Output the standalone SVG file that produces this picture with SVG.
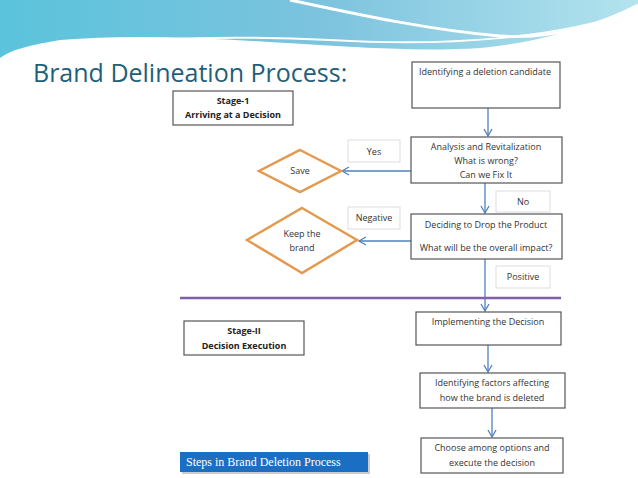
<svg xmlns="http://www.w3.org/2000/svg" width="638" height="478" viewBox="0 0 638 478">
<defs>
<linearGradient id="hg" x1="0" y1="0" x2="1" y2="0"><stop offset="0" stop-color="#5bc3dc"/><stop offset="0.5" stop-color="#7cc3de"/><stop offset="1" stop-color="#b3e3ee"/></linearGradient>
<marker id="ar" markerWidth="10" markerHeight="10" refX="8" refY="5" orient="auto" markerUnits="userSpaceOnUse"><path d="M1,1 L8,5 L1,9" fill="none" stroke="#4f81bd" stroke-width="1.3"/></marker>
</defs>
<style>
.bx{fill:#fff;stroke:#555;stroke-width:1.2}
.lb{fill:#fff;stroke:#ddd;stroke-width:1}
.dm{fill:#fff;stroke:#e39a4e;stroke-width:2.5}
.t{font-family:"Open Sans","Liberation Sans",sans-serif;font-size:9px;fill:#333;text-anchor:middle}
.tb{font-family:"Open Sans","Liberation Sans",sans-serif;font-size:9px;font-weight:bold;fill:#222;text-anchor:middle}
.cn{stroke:#4f81bd;stroke-width:1.3;fill:none;marker-end:url(#ar)}
</style>
<rect width="638" height="478" fill="#fff"/>
<path d="M0,0 H638 V5 C600,20 560,40 480,48 C360,56 200,28 60,40 C30,45 10,50 0,58 Z" fill="url(#hg)"/>
<path d="M290,0 C360,15 430,30 500,36 C560,40 610,20 638,5" fill="none" stroke="#fff" stroke-width="3"/>
<path d="M0,62 C60,40 200,34 330,40 C450,47 560,38 638,10" fill="none" stroke="#fff" stroke-width="2"/>
<text x="33" y="82" font-family="Open Sans, Liberation Sans, sans-serif" font-size="25" fill="#1f6078">Brand Delineation Process:</text>
<g id="connectors">
<line class="cn" x1="488" y1="108" x2="488" y2="136"/>
<line class="cn" x1="411" y1="171" x2="342" y2="171"/>
<line class="cn" x1="485" y1="183" x2="485" y2="213"/>
<line class="cn" x1="411" y1="241" x2="359" y2="241"/>
<line class="cn" x1="485" y1="259" x2="485" y2="311"/>
<line class="cn" x1="488" y1="345" x2="488" y2="372"/>
<line class="cn" x1="492" y1="408" x2="492" y2="437"/>
</g>
<line x1="180" y1="298" x2="561" y2="298" stroke="#7f5fa8" stroke-width="2.5"/>
<g id="stage1"><rect class="bx" x="173" y="91" width="120" height="34"/><text class="tb" x="233" y="104">Stage-1</text><text class="tb" x="233" y="118">Arriving at a Decision</text></g>
<g id="identify"><rect class="bx" x="412" y="62" width="148" height="46"/><text class="t" x="485" y="75">Identifying a deletion candidate</text></g>
<g id="analysis"><rect class="bx" x="411" y="137" width="151" height="46"/><text class="t" x="486" y="150">Analysis and Revitalization</text><text class="t" x="486" y="164">What is wrong?</text><text class="t" x="486" y="178">Can we Fix It</text></g>
<g id="yes"><rect class="lb" x="348" y="140" width="52" height="22"/><text class="t" x="374" y="155">Yes</text></g>
<g id="save"><polygon class="dm" points="300,150 341,171 300,192 259,171"/><text class="t" x="300" y="174">Save</text></g>
<g id="no"><rect class="lb" x="496" y="191" width="54" height="21"/><text class="t" x="523" y="205">No</text></g>
<g id="negative"><rect class="lb" x="348" y="207" width="52" height="22"/><text class="t" x="374" y="221">Negative</text></g>
<g id="deciding"><rect class="bx" x="411" y="214" width="151" height="45"/><text class="t" x="486" y="228">Deciding to Drop the Product</text><text class="t" x="486" y="251">What will be the overall impact?</text></g>
<g id="keep"><polygon class="dm" points="302,208 357,240 302,273 247,240"/><text class="t" x="302" y="237">Keep the</text><text class="t" x="302" y="251">brand</text></g>
<g id="positive"><rect class="lb" x="496" y="266" width="54" height="22"/><text class="t" x="523" y="280">Positive</text></g>
<g id="stage2"><rect class="bx" x="184" y="321" width="120" height="34"/><text class="tb" x="244" y="334">Stage-II</text><text class="tb" x="244" y="349">Decision Execution</text></g>
<g id="implement"><rect class="bx" x="416" y="312" width="145" height="33"/><text class="t" x="488" y="325">Implementing the Decision</text></g>
<g id="factors"><rect class="bx" x="420" y="373" width="145" height="35"/><text class="t" x="492" y="386">Identifying factors affecting</text><text class="t" x="492" y="401">how the brand is deleted</text></g>
<g id="choose"><rect class="bx" x="421" y="438" width="142" height="35"/><text class="t" x="492" y="451">Choose among options and</text><text class="t" x="492" y="466">execute the decision</text></g>
<g id="steps"><rect x="182" y="454" width="188" height="20" fill="#ccc"/><rect x="180" y="452" width="188" height="20" fill="#1a6fc4"/><text x="186" y="466" font-family="Liberation Serif, serif" font-size="12" fill="#fff">Steps in Brand Deletion Process</text></g>
</svg>
